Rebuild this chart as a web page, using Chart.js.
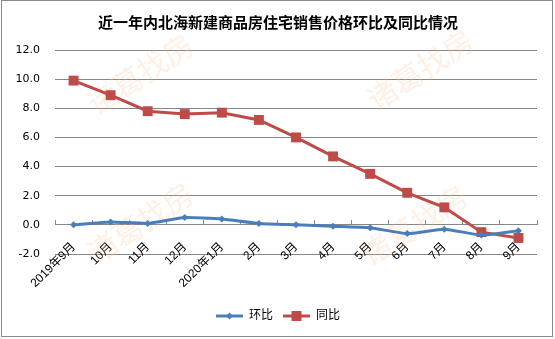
<!DOCTYPE html>
<html>
<head>
<meta charset="utf-8">
<script src="https://cdn.jsdelivr.net/npm/chart.js@4/dist/chart.umd.min.js"></script>
<style>
    html, body { margin: 0; padding: 0; background: #ffffff; }
    #wrap { width: 555px; height: 339px; position: relative; }
</style>
</head>
<body>
<div id="wrap"><canvas id="priceChart"></canvas></div>
<script>
// Months on the category axis
const months = ['2019年9月', '10月', '11月', '12月', '2020年1月', '2月', '3月', '4月', '5月', '6月', '7月', '8月', '9月'];
// Month-on-month change (%)
const huanbi = [0.0, 0.2, 0.1, 0.5, 0.4, 0.1, 0.0, -0.1, -0.2, -0.6, -0.3, -0.7, -0.4];
// Year-on-year change (%)
const tongbi = [9.9, 8.9, 7.8, 7.6, 7.7, 7.2, 6.0, 4.7, 3.5, 2.2, 1.2, -0.5, -0.9];
// Value axis
const yMin = -2;
const yMax = 12;
const yStep = 2;

const BLUE = '#4A7EBB';
const RED = '#BE4B48';
const GRID = '#878787';
const CJK = '"Liberation Sans", "Noto Sans CJK SC", sans-serif';

// Small line + marker swatch for legend entries
function legendSwatch(color, marker) {
    const c = document.createElement('canvas');
    c.width = 27;
    c.height = 12;
    const g = c.getContext('2d');
    g.strokeStyle = color;
    g.lineWidth = 3;
    g.beginPath();
    g.moveTo(0, 6);
    g.lineTo(27, 6);
    g.stroke();
    g.fillStyle = color;
    if (marker === 'rect') {
        g.fillRect(8.5, 1, 10, 10);
    } else {
        g.beginPath();
        g.moveTo(13.5, 2.5);
        g.lineTo(17, 6);
        g.lineTo(13.5, 9.5);
        g.lineTo(10, 6);
        g.closePath();
        g.fill();
    }
    return c;
}

// Faint diagonal watermark text behind the series
const watermark = {
    id: 'watermark',
    beforeDatasetsDraw(chart) {
        const ctx = chart.ctx;
        const spots = [[140, 74], [420, 70], [140, 223], [414, 225]];
        ctx.save();
        ctx.font = '30px "Noto Sans CJK SC", sans-serif';
        ctx.fillStyle = 'rgba(253, 196, 150, 0.25)';
        ctx.textAlign = 'center';
        ctx.textBaseline = 'middle';
        spots.forEach(([x, y]) => {
            ctx.save();
            ctx.translate(x, y);
            ctx.rotate(-33 * Math.PI / 180);
            ctx.fillText('诸葛找房', 0, 0);
            ctx.restore();
        });
        ctx.restore();
    }
};

// Thin frame round the whole chart
const frame = {
    id: 'frame',
    afterDraw(chart) {
        const ctx = chart.ctx;
        ctx.save();
        ctx.strokeStyle = '#8c8c8c';
        ctx.lineWidth = 1;
        ctx.strokeRect(1.5, 0.5, 551, 336);
        ctx.restore();
    }
};

const ctx = document.getElementById('priceChart').getContext('2d');
const chart = new Chart(ctx, {
    type: 'line',
    data: {
        labels: months,
        datasets: [{
            label: '环比',
            data: huanbi,
            borderColor: BLUE,
            backgroundColor: BLUE,
            borderWidth: 3,
            tension: 0.15,
            pointStyle: 'rectRot',
            pointRadius: 3.5,
            pointBorderWidth: 0,
            pointBackgroundColor: BLUE
        }, {
            label: '同比',
            data: tongbi,
            borderColor: RED,
            backgroundColor: RED,
            borderWidth: 3,
            tension: 0,
            pointStyle: 'rect',
            pointRadius: 7,
            pointBorderWidth: 0,
            pointBackgroundColor: RED
        }]
    },
    options: {
        responsive: true,
        maintainAspectRatio: false,
        animation: false,
        layout: {
            padding: { left: 12, right: 11, top: 0, bottom: 7 }
        },
        scales: {
            x: {
                type: 'category',
                position: { y: 0 },
                offset: true,
                grid: {
                    drawOnChartArea: false,
                    drawTicks: true,
                    tickLength: -5,
                    color: GRID,
                    offset: true
                },
                border: { color: GRID, width: 1 },
                ticks: {
                    autoSkip: false,
                    maxRotation: 45,
                    minRotation: 45,
                    padding: 20,
                    color: '#000000',
                    font: { family: CJK, size: 12 }
                }
            },
            y: {
                min: yMin,
                max: yMax,
                grid: {
                    color: GRID,
                    drawTicks: false
                },
                border: { display: false },
                ticks: {
                    stepSize: yStep,
                    padding: 15,
                    color: '#000000',
                    font: { family: '"DejaVu Sans", sans-serif', size: 11 },
                    callback: function(value) {
                        return value.toFixed(1);
                    }
                },
                afterFit: function(scale) {
                    scale.width = 43;
                }
            },
            // blank right-hand margin so the plot ends short of the frame
            yRight: {
                position: 'right',
                min: yMin,
                max: yMax,
                grid: { display: false },
                border: { display: false },
                ticks: { display: false },
                afterFit: function(scale) {
                    scale.width = 7;
                }
            }
        },
        plugins: {
            title: {
                display: true,
                text: '近一年内北海新建商品房住宅销售价格环比及同比情况',
                color: '#000000',
                font: { family: '"Noto Sans CJK SC", sans-serif', size: 15, weight: 'bold' },
                padding: { top: 13, bottom: 19 }
            },
            // empty spacer below the plot, above the legend (room for the month labels)
            subtitle: {
                display: true,
                position: 'bottom',
                weight: 500,
                text: '',
                font: { size: 10 },
                padding: { top: 17, bottom: 17 }
            },
            legend: {
                position: 'bottom',
                weight: 1000,
                labels: {
                    usePointStyle: true,
                    pointStyleWidth: 27,
                    padding: 10,
                    color: '#000000',
                    font: { family: CJK, size: 12 },
                    generateLabels: function(chart) {
                        return chart.data.datasets.map((ds, i) => ({
                            text: ds.label,
                            pointStyle: legendSwatch(ds.borderColor, ds.pointStyle),
                            fillStyle: ds.borderColor,
                            strokeStyle: ds.borderColor,
                            lineWidth: 0,
                            hidden: !chart.isDatasetVisible(i),
                            datasetIndex: i
                        }));
                    }
                }
            },
            tooltip: { enabled: false }
        }
    },
    plugins: [watermark, frame]
});
</script>
</body>
</html>
